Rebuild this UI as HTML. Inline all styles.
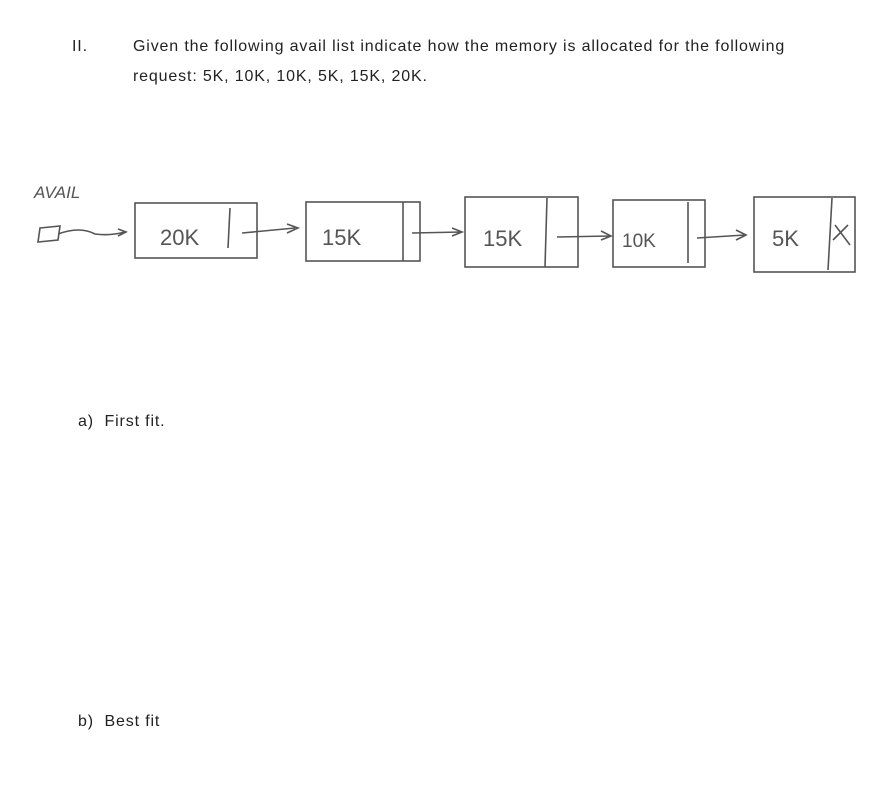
<!DOCTYPE html>
<html><head><style>
body{margin:0;width:879px;height:810px;background:#fff;position:relative;overflow:hidden;font-family:"Liberation Sans",sans-serif;color:#222}
.t{position:absolute;font-size:16px;white-space:nowrap;letter-spacing:0.85px;font-weight:500}
</style></head><body>
<div class="t" style="left:72px;top:38px">II.</div>
<div class="t" style="left:133px;top:38px">Given the following avail list indicate how the memory is allocated for the following</div>
<div class="t" style="left:133px;top:68px">request: 5K, 10K, 10K, 5K, 15K, 20K.</div>
<div class="t" style="left:78px;top:413px">a)&nbsp;&nbsp;First fit.</div>
<div class="t" style="left:78px;top:713px">b)&nbsp;&nbsp;Best fit</div>
<svg width="879" height="810" style="position:absolute;left:0;top:0" fill="none" stroke="#555" stroke-width="1.6" font-family="'Liberation Sans',sans-serif">
<text x="34" y="198" font-size="17" fill="#555" stroke="none" font-style="italic">AVAIL</text>
<path d="M40 228 L60 226 L58 240 L38 242 Z"/>
<path d="M58 234 Q80 226 95 234 Q110 236 125 232 M118 229 L126 232 L118 236"/>
<rect x="135" y="203" width="122" height="55"/><line x1="230" y1="208" x2="228" y2="248"/>
<text x="160" y="245" font-size="22" fill="#555" stroke="none">20K</text>
<path d="M242 233 L295 228 M287 224 L298 228 L287 233"/>
<rect x="306" y="202" width="114" height="59"/><line x1="403" y1="202" x2="403" y2="261"/>
<text x="322" y="245" font-size="22" fill="#555" stroke="none">15K</text>
<path d="M412 233 L462 232 M452 228 L462 232 L452 236"/>
<rect x="465" y="197" width="113" height="70"/><line x1="547" y1="198" x2="545" y2="267"/>
<text x="483" y="246" font-size="22" fill="#555" stroke="none">15K</text>
<path d="M557 237 L610 236 M601 231 L611 236 L601 240"/>
<rect x="613" y="200" width="92" height="67"/><line x1="688" y1="202" x2="688" y2="263"/>
<text x="622" y="247" font-size="19" fill="#555" stroke="none">10K</text>
<path d="M697 238 L745 235 M736 230 L746 235 L736 240"/>
<rect x="754" y="197" width="101" height="75"/><line x1="832" y1="198" x2="828" y2="270"/>
<text x="772" y="246" font-size="22" fill="#555" stroke="none">5K</text>
<path d="M835 225 L850 245 M833 240 L848 225"/>
</svg>
</body></html>
